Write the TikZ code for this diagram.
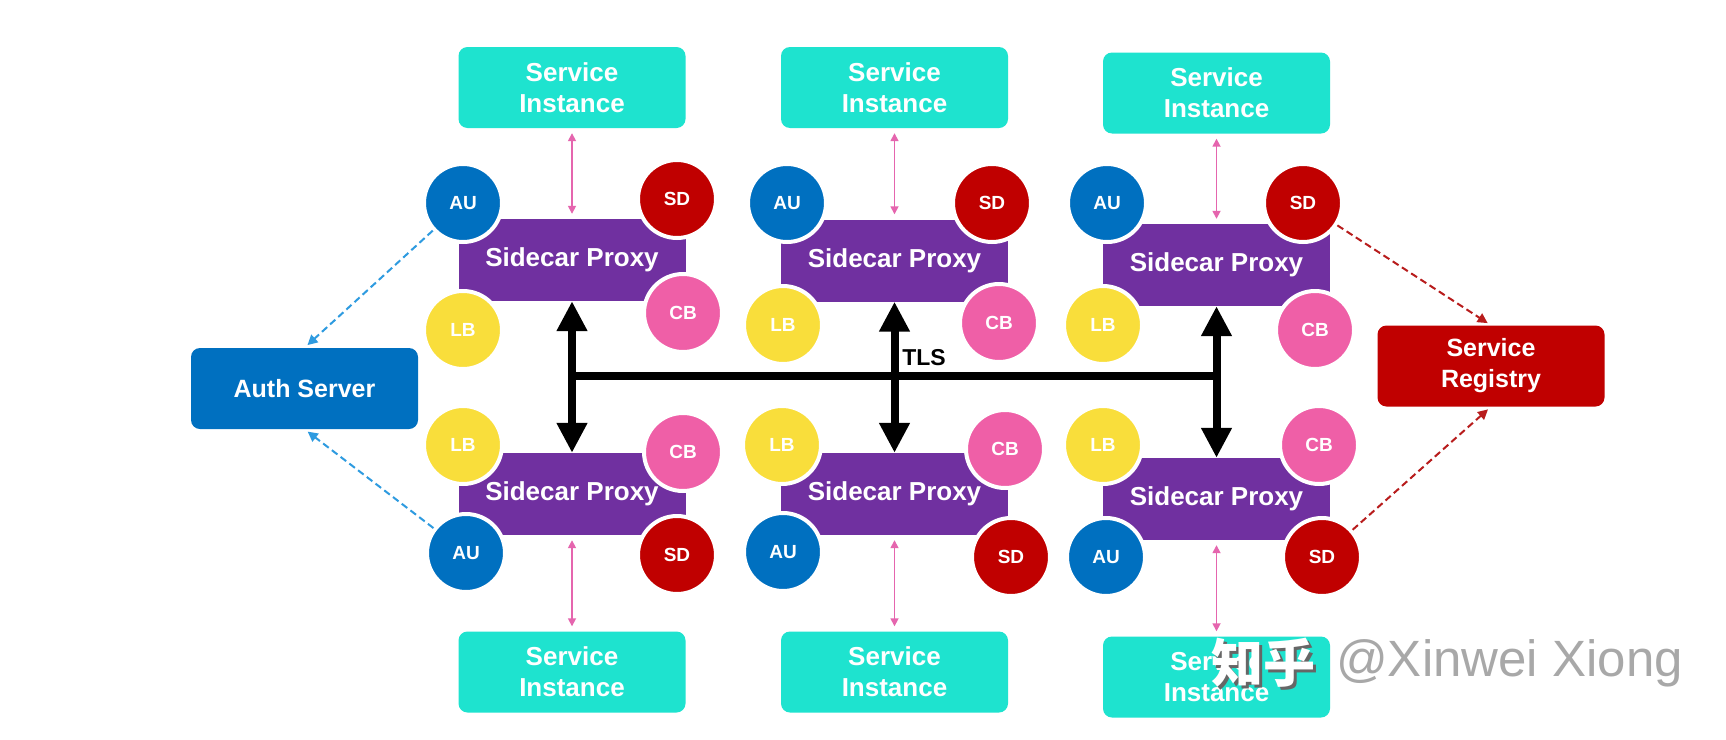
\documentclass[tikz,border=0pt]{standalone}
\usepackage{fontspec}
\setmainfont{Liberation Sans}
\newfontfamily\cjkfont{Noto Sans CJK SC}
\usetikzlibrary{arrows.meta,calc}
\definecolor{siC}{HTML}{1EE3CF}
\definecolor{pxC}{HTML}{7030A0}
\definecolor{auC}{HTML}{0070C0}
\definecolor{sdC}{HTML}{C00000}
\definecolor{lbC}{HTML}{F9DE3B}
\definecolor{cbC}{HTML}{EF5FA7}
\definecolor{pinkC}{HTML}{E565AE}
\definecolor{dashB}{HTML}{2E9BE0}
\definecolor{dashR}{HTML}{B81C1C}
\definecolor{wmGray}{HTML}{A8A8A8}
\begin{document}
\begin{tikzpicture}[x=1pt,y=-1pt,
  sibox/.style={fill=siC, rounded corners=9pt, minimum width=227pt, minimum height=81pt,
    text=white, font=\bfseries\fontsize{26}{31}\selectfont, align=center, inner sep=0pt},
  proxy/.style={fill=pxC, minimum width=227pt, minimum height=82pt, inner sep=0pt,
    text=white, font=\bfseries\fontsize{26}{30}\selectfont},
  comp/.style={circle, draw=white, line width=4pt, minimum size=78pt, inner sep=0pt,
    text=white, font=\bfseries\fontsize{19}{21}\selectfont},
  au/.style={comp, fill=auC},
  sd/.style={comp, fill=sdC},
  lb/.style={comp, fill=lbC},
  cb/.style={comp, fill=cbC},
  server/.style={rounded corners=9pt, minimum width=227pt, minimum height=81pt, inner sep=0pt,
    text=white, font=\bfseries\fontsize{25}{31}\selectfont, align=center},
  link/.style={draw=pinkC, line width=1.6pt,
    {Triangle[width=8pt,length=8pt]}-{Triangle[width=8pt,length=8pt]},
    shorten <=5pt, shorten >=5pt},
  tlsarrow/.style={draw=black, line width=8pt,
    {Triangle[width=29pt,length=30pt]}-{Triangle[width=29pt,length=30pt]}},
  authlink/.style={draw=dashB, line width=2pt, dash pattern=on 7pt off 4pt,
    -{Triangle[width=10pt,length=10pt]}, shorten >=4pt},
  reglink/.style={draw=dashR, line width=2pt, dash pattern=on 7pt off 4pt,
    -{Triangle[width=10pt,length=10pt]}, shorten >=4pt},
]
\useasboundingbox[fill=white] (0,0) rectangle (1726,739);

% Service instances
\node[sibox] (si1t) at (572,87.5) {Service\\Instance};
\node[sibox] (si2t) at (894.5,87.5) {Service\\Instance};
\node[sibox] (si3t) at (1216.5,93) {Service\\Instance};
\node[sibox] (si1b) at (572,672) {Service\\Instance};
\node[sibox] (si2b) at (894.5,672) {Service\\Instance};
\node[sibox] (si3b) at (1216.5,677) {Service\\Instance};

% Sidecar proxies
\node[proxy] (p1t) at (572,260) {Sidecar Proxy};
\node[proxy] (p2t) at (894.5,260.5) {Sidecar Proxy};
\node[proxy] (p3t) at (1216.5,265) {Sidecar Proxy};
\node[proxy] (p1b) at (572,494) {Sidecar Proxy};
\node[proxy] (p2b) at (894.5,494) {Sidecar Proxy};
\node[proxy] (p3b) at (1216.5,499) {Sidecar Proxy};

% pink links
\draw[link] (si1t.south) -- (p1t.north);
\draw[link] (si2t.south) -- (p2t.north);
\draw[link] (si3t.south) -- (p3t.north);
\draw[link] (p1b.south) -- (si1b.north);
\draw[link] (p2b.south) -- (si2b.north);
\draw[link] (p3b.south) -- (si3b.north);

% components, column 1
\node[au] (au1t) at (463,203) {AU};
\node[sd] (sd1t) at (677,199) {SD};
\node[lb] (lb1t) at (463,330) {LB};
\node[cb] (cb1t) at (683,313) {CB};
\node[lb] (lb1b) at (463,445) {LB};
\node[cb] (cb1b) at (683,452) {CB};
\node[au] (au1b) at (466,553) {AU};
\node[sd] (sd1b) at (677,555) {SD};
% column 2
\node[au] (au2t) at (787,203) {AU};
\node[sd] (sd2t) at (992,203) {SD};
\node[lb] (lb2t) at (783,325) {LB};
\node[cb] (cb2t) at (999,323) {CB};
\node[lb] (lb2b) at (782,445) {LB};
\node[cb] (cb2b) at (1005,449) {CB};
\node[au] (au2b) at (783,552) {AU};
\node[sd] (sd2b) at (1011,557) {SD};
% column 3
\node[au] (au3t) at (1107,203) {AU};
\node[sd] (sd3t) at (1303,203) {SD};
\node[lb] (lb3t) at (1103,325) {LB};
\node[cb] (cb3t) at (1315,330) {CB};
\node[lb] (lb3b) at (1103,445) {LB};
\node[cb] (cb3b) at (1319,445) {CB};
\node[au] (au3b) at (1106,557) {AU};
\node[sd] (sd3b) at (1322,557) {SD};

% servers
\node[server, fill=auC] (auth) at (304.5,388.5) {Auth Server};
\node[server, fill=sdC] (sr) at (1491,366) {Service\\Registry};

% TLS bus
\coordinate (bus) at (0,376);
\draw[tlsarrow] (p1t.south) -- (p1b.north);
\draw[tlsarrow] (p2t.south) -- (p2b.north);
\draw[tlsarrow] (p3t.south) -- (p3b.north);
\draw[line width=8pt] (p1t.south |- bus) -- (p3t.south |- bus);
\node[font=\bfseries\fontsize{23}{25}\selectfont, inner sep=0pt] (tls) at (924,358) {TLS};

% dashed links
\draw[authlink] (au1t) -- (auth.north);
\draw[authlink] (au1b) -- (auth.south);
\draw[reglink] (sd3t) -- (sr.north);
\draw[reglink] (sd3b) -- (sr.south);

% watermark
\node[text=gray!80!black, font=\cjkfont\bfseries\fontsize{52}{52}\selectfont, inner sep=0pt] (wm1s) at (1266,666) {知乎};
\node[text=white, font=\cjkfont\bfseries\fontsize{52}{52}\selectfont, inner sep=0pt] (wm1) at (1263,663) {知乎};
\node[text=wmGray, font=\fontsize{51}{51}\selectfont, anchor=west, inner sep=0pt] (wm2) at (1336,663) {@Xinwei Xiong};
\end{tikzpicture}
\end{document}
